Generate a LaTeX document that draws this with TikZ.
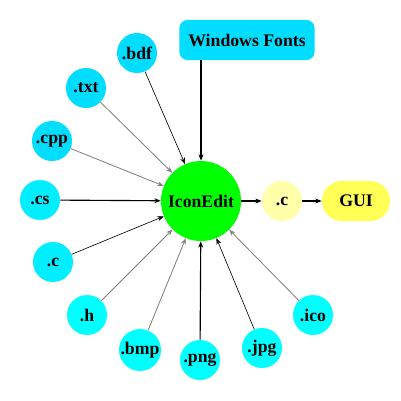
\documentclass[tikz,border=0pt]{standalone}
\usepackage{fontspec}
\setmainfont{Liberation Serif}
\usetikzlibrary{arrows.meta}

\definecolor{skyA}{HTML}{00DDFF}
\definecolor{skyB}{HTML}{00EEFF}
\definecolor{skyC}{HTML}{00FFFF}
\definecolor{paleY}{HTML}{FFFFAA}
\definecolor{brightY}{HTML}{FFFF55}

\begin{document}
\begin{tikzpicture}
	[x=0.025cm,y=-0.025cm,
	every node/.style={font=\fontsize{12.6}{14}\selectfont\bfseries},
	ext/.style={circle,minimum size=1cm,inner sep=0pt},
	core/.style={circle,minimum size=2cm,inner sep=0pt,fill=green},
	box/.style={rounded corners=0.2cm,minimum height=1cm,inner sep=0pt},
	tip/.style={-{Stealth[length=4.5pt,width=3.5pt]}},
	heavy/.style={tip,line width=0.8pt},
	thin/.style={tip,line width=0.45pt},
	grey/.style={tip,line width=0.6pt,gray}]
	\useasboundingbox (0,0) rectangle (401,401);
	\node[core] (ie) at (201,201) {IconEdit};
	\node[box,fill=skyA,minimum width=3.375cm] (wf) at (247,40) {Windows Fonts};
	\node[ext,fill=paleY] (cout) at (282,201) {.c};
	\node[box,fill=brightY,minimum width=1.7cm,rounded corners=0.5cm] (gui) at (356,201) {GUI};
	% the file types
	\node[ext,fill=skyA] (bdf) at (137,53) {.bdf};
	\node[ext,fill=skyA] (txt) at (86,88) {.txt};
	\node[ext,fill=skyA] (cpp) at (52,141) {.cpp};
	\node[ext,fill=skyB] (cs) at (40,200) {.cs};
	\node[ext,fill=skyB] (cin) at (53,262) {.c};
	\node[ext,fill=skyC] (h) at (87,315) {.h};
	\node[ext,fill=skyC] (bmp) at (140,350) {.bmp};
	\node[ext,fill=skyC] (png) at (200,360) {.png};
	\node[ext,fill=skyC] (jpg) at (262,348) {.jpg};
	\node[ext,fill=skyC] (ico) at (313,315) {.ico};
	% edges
	\draw[heavy] (wf.south -| ie.north) -- (ie.north);
	\draw[thin] (bdf) -- (ie);
	\draw[grey] (txt) -- (ie);
	\draw[grey] (cpp) -- (ie);
	\draw[heavy] (cs) -- (ie);
	\draw[thin] (cin) -- (ie);
	\draw[grey] (h) -- (ie);
	\draw[grey] (bmp) -- (ie);
	\draw[heavy] (png) -- (ie);
	\draw[thin] (jpg) -- (ie);
	\draw[grey] (ico) -- (ie);
	\draw[heavy] (ie) -- (cout);
	\draw[heavy] (cout) -- (gui);
\end{tikzpicture}
\end{document}
